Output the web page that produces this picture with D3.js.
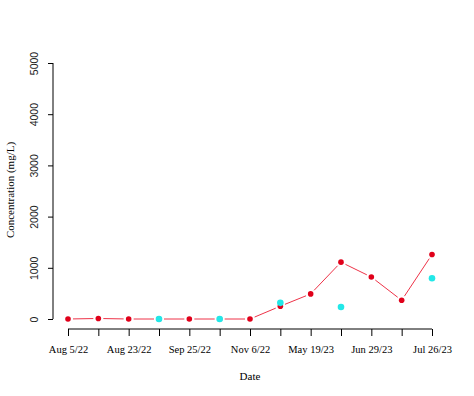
<!DOCTYPE html>
<html>
<head>
<meta charset="utf-8">
<script src="https://cdn.jsdelivr.net/npm/d3@7"></script>
<style>
  body { margin: 0; background: #fff; }
  svg text { font-family: 'Liberation Serif', 'Times New Roman', serif; font-size: 11px; fill: #000; }
</style>
</head>
<body>
<svg id="chart" width="474" height="396"></svg>
<script>
// sample index along x, label shown only on every other tick
const tickLabels = ['Aug 5/22', '', 'Aug 23/22', '', 'Sep 25/22', '', 'Nov 6/22', '', 'May 19/23', '', 'Jun 29/23', '', 'Jul 26/23']
const redValues = [0, 10, 0, 0, 0, 0, 0, 250, 490, 1110, 820, 365, 1260]
const cyanIdx = [3, 5, 7, 9, 12]
const cyanValues = [0, 0, 315, 235, 795]
const yTicks = [0, 1000, 2000, 3000, 4000, 5000]

const svg = d3.select('#chart')

const x = d3.scaleLinear().domain([0, tickLabels.length - 1]).range([68, 432])
const y = d3.scaleLinear().domain([0, 5000]).range([319, 63])

// y axis
const yAxis = svg.append('g')
  .attr('transform', 'translate(53,0)')
  .call(d3.axisLeft(y).tickValues(yTicks).tickSize(5).tickFormat(d3.format('d')))
yAxis.select('.domain').attr('stroke', '#000').attr('d', `M0,${y(0)}V${y(5000)}`)
yAxis.selectAll('.tick line').attr('stroke', '#000')
yAxis.selectAll('.tick text')
  .attr('transform', 'rotate(-90)')
  .attr('x', 0)
  .attr('y', -15)
  .attr('dy', 0)
  .attr('text-anchor', 'middle')
  .style('font-family', "'Liberation Sans', Arial, sans-serif")
  .style('font-size', '10.5px')
  .style('fill', '#222')

// x axis
const xAxis = svg.append('g')
  .attr('transform', 'translate(0,329)')
  .call(d3.axisBottom(x).tickValues(d3.range(tickLabels.length)).tickSize(7).tickFormat(i => tickLabels[i]))
xAxis.select('.domain').attr('stroke', '#000').attr('d', `M${x(0)},0H${x(tickLabels.length - 1)}`)
xAxis.selectAll('.tick line').attr('stroke', '#000')
xAxis.selectAll('.tick text').attr('y', 17).attr('dy', '0.71em').style('font-size', '10.5px')

// axis titles
svg.append('text')
  .attr('x', 250).attr('y', 380)
  .attr('text-anchor', 'middle')
  .text('Date')
svg.append('text')
  .attr('transform', 'translate(14,190) rotate(-90)')
  .attr('text-anchor', 'middle')
  .text('Concentration (mg/L)')

// red series, line with gaps around the points
const gap = 5
for (let i = 0; i < redValues.length - 1; i++) {
  const x1 = x(i); const y1 = y(redValues[i])
  const x2 = x(i + 1); const y2 = y(redValues[i + 1])
  const len = Math.hypot(x2 - x1, y2 - y1)
  const ux = (x2 - x1) / len; const uy = (y2 - y1) / len
  svg.append('line')
    .attr('x1', x1 + ux * gap).attr('y1', y1 + uy * gap)
    .attr('x2', x2 - ux * gap).attr('y2', y2 - uy * gap)
    .attr('stroke', '#ee3348')
    .attr('stroke-width', 1)
}

svg.selectAll('.red')
  .data(redValues)
  .enter()
  .append('circle')
  .attr('cx', (d, i) => x(i))
  .attr('cy', d => y(d))
  .attr('r', 2.8)
  .attr('fill', '#e0001a')

svg.selectAll('.cyan')
  .data(cyanValues)
  .enter()
  .append('circle')
  .attr('cx', (d, i) => x(cyanIdx[i]))
  .attr('cy', d => y(d))
  .attr('r', 3.3)
  .attr('fill', '#22e8e8')
</script>
</body>
</html>
